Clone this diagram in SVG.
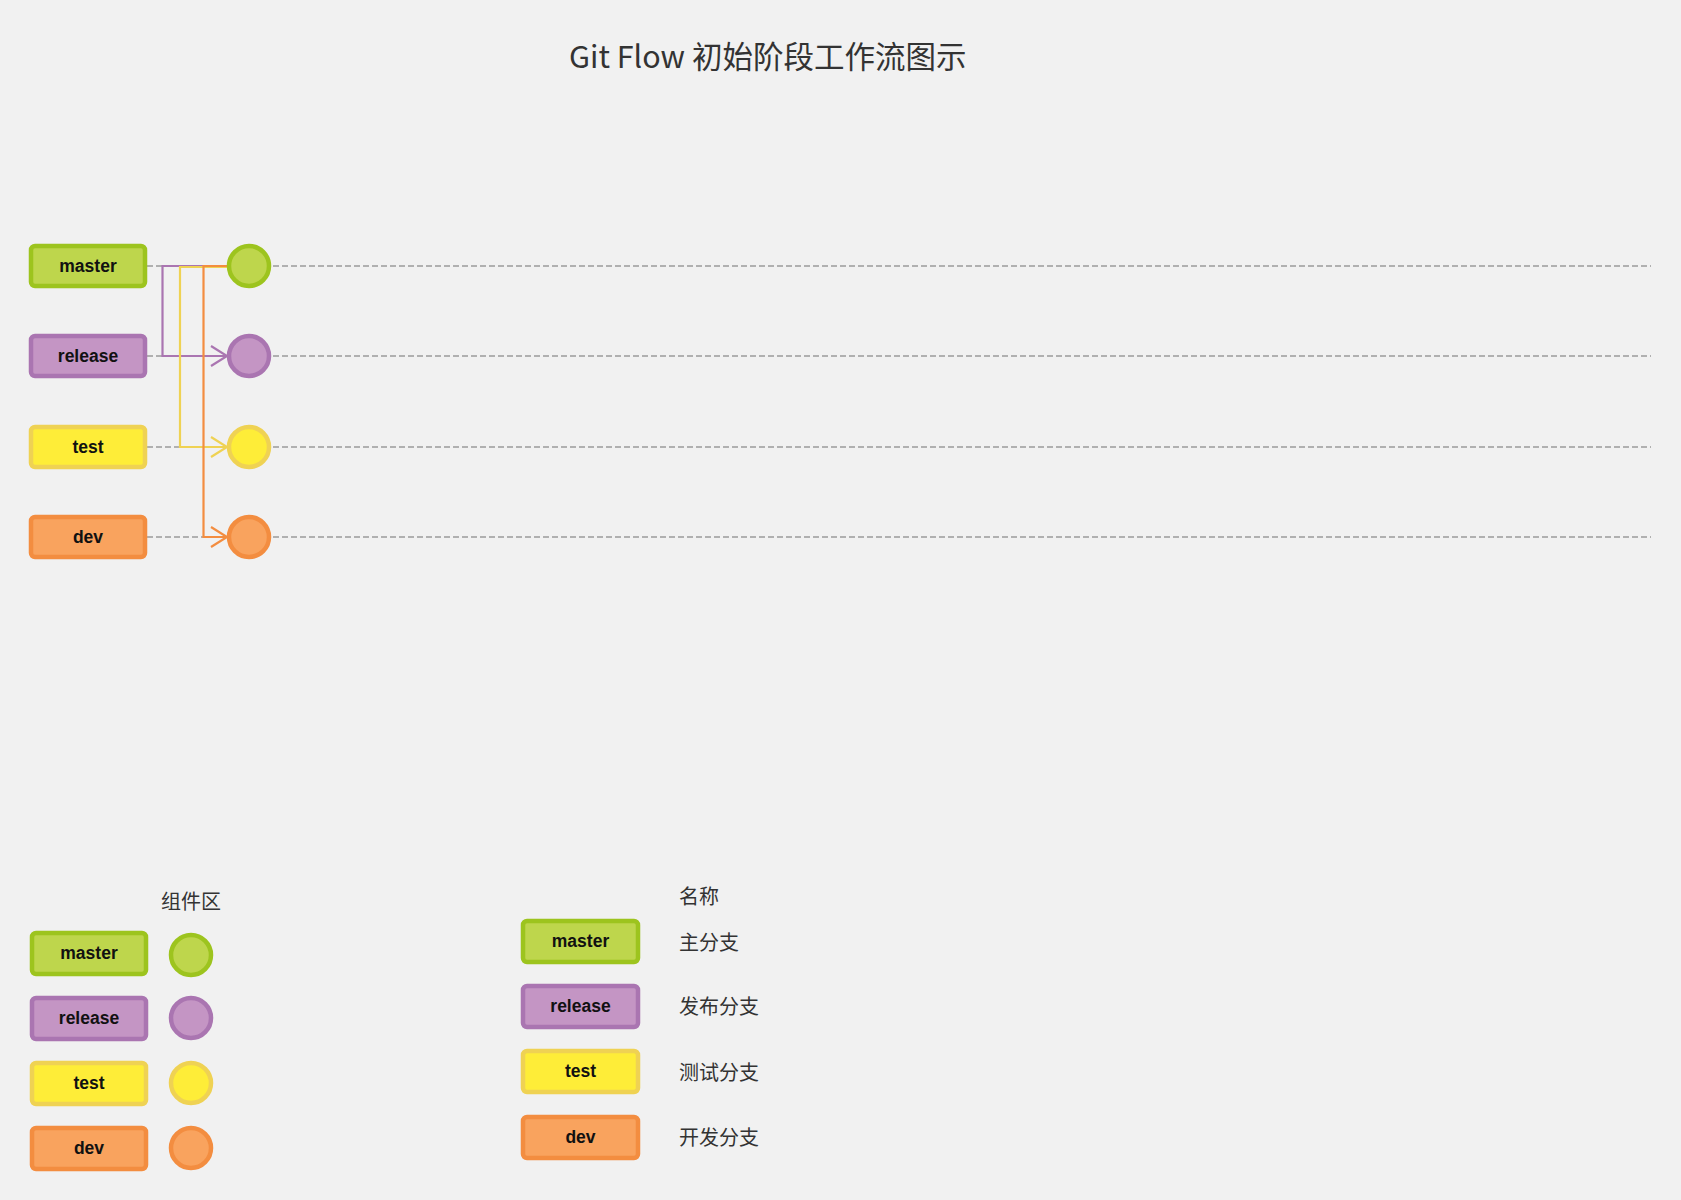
<svg xmlns="http://www.w3.org/2000/svg" width="1681" height="1200" viewBox="0 0 1681 1200">
<defs>
<style>
.bg{fill:#F1F1F1}
.title{font-family:"Noto Sans CJK SC","Liberation Sans",sans-serif;font-size:30.5px;fill:#333}
.lbl{font-family:"Liberation Sans","Noto Sans CJK SC",sans-serif;font-size:17.5px;font-weight:bold;fill:#111;text-anchor:middle}
.cap{font-family:"Noto Sans CJK SC","Liberation Sans",sans-serif;font-size:20px;fill:#333}
.box{stroke-width:4.5}
.cir{stroke-width:4.5}
.m{fill:#BED64C;stroke:#9DC41E}
.r{fill:#C495C4;stroke:#AA75B1}
.t{fill:#FEED38;stroke:#EFD253}
.d{fill:#F9A35E;stroke:#F38D40}
.dash{stroke:#9A9A9A;stroke-width:1.5;stroke-dasharray:6 3;fill:none}
.con{fill:none;stroke-width:2.2}
</style>
<marker id="arrP" markerWidth="20" markerHeight="24" refX="17" refY="11" orient="auto" markerUnits="userSpaceOnUse"><path d="M1,1 L17,11 L1,21" fill="none" stroke="#AA75B1" stroke-width="2.2"/></marker>
<marker id="arrY" markerWidth="20" markerHeight="24" refX="17" refY="11" orient="auto" markerUnits="userSpaceOnUse"><path d="M1,1 L17,11 L1,21" fill="none" stroke="#EFD253" stroke-width="2.2"/></marker>
<marker id="arrO" markerWidth="20" markerHeight="24" refX="17" refY="11" orient="auto" markerUnits="userSpaceOnUse"><path d="M1,1 L17,11 L1,21" fill="none" stroke="#F38D40" stroke-width="2.2"/></marker>
</defs>
<rect class="bg" x="0" y="0" width="1681" height="1200"/>
<text class="title" x="569" y="68">Git Flow 初始阶段工作流图示</text>

<g id="lanes">
<line class="dash" x1="147" y1="266" x2="1651" y2="266"/>
<line class="dash" x1="147" y1="356" x2="1651" y2="356"/>
<line class="dash" x1="147" y1="447" x2="1651" y2="447"/>
<line class="dash" x1="147" y1="537" x2="1651" y2="537"/>
</g>

<g id="connectors">
<path class="con" stroke="#AA75B1" d="M227,266 L162.5,266 L162.5,356 L227,356" marker-end="url(#arrP)"/>
<path class="con" stroke="#EFD253" d="M227,267 L180,267 L180,447 L227,447" marker-end="url(#arrY)"/>
<path class="con" stroke="#F38D40" d="M227,266 L203.5,266 L203.5,537 L227,537" marker-end="url(#arrO)"/>
</g>

<g id="node-master"><rect class="box m" x="31" y="246" width="114" height="40" rx="4"/><text class="lbl" x="88" y="272">master</text></g>
<g id="node-release"><rect class="box r" x="31" y="336" width="114" height="40" rx="4"/><text class="lbl" x="88" y="362">release</text></g>
<g id="node-test"><rect class="box t" x="31" y="427" width="114" height="40" rx="4"/><text class="lbl" x="88" y="453">test</text></g>
<g id="node-dev"><rect class="box d" x="31" y="517" width="114" height="40" rx="4"/><text class="lbl" x="88" y="543">dev</text></g>

<g id="commit-master"><circle class="cir m" cx="249" cy="266" r="20"/></g>
<g id="commit-release"><circle class="cir r" cx="249" cy="356" r="20"/></g>
<g id="commit-test"><circle class="cir t" cx="249" cy="447" r="20"/></g>
<g id="commit-dev"><circle class="cir d" cx="249" cy="537" r="20"/></g>

<g id="legend-components">
<text class="cap" x="161" y="909">组件区</text>
<g id="lc-master"><rect class="box m" x="32" y="933" width="114" height="41" rx="4"/><text class="lbl" x="89" y="959">master</text><circle class="cir m" cx="191" cy="955" r="20"/></g>
<g id="lc-release"><rect class="box r" x="32" y="998" width="114" height="41" rx="4"/><text class="lbl" x="89" y="1024">release</text><circle class="cir r" cx="191" cy="1018" r="20"/></g>
<g id="lc-test"><rect class="box t" x="32" y="1063" width="114" height="41" rx="4"/><text class="lbl" x="89" y="1089">test</text><circle class="cir t" cx="191" cy="1083" r="20"/></g>
<g id="lc-dev"><rect class="box d" x="32" y="1128" width="114" height="41" rx="4"/><text class="lbl" x="89" y="1154">dev</text><circle class="cir d" cx="191" cy="1148" r="20"/></g>
</g>

<g id="legend-names">
<text class="cap" x="679" y="904">名称</text>
<g id="ln-master"><rect class="box m" x="523" y="921" width="115" height="41" rx="4"/><text class="lbl" x="580.5" y="947">master</text><text class="cap" x="679" y="950">主分支</text></g>
<g id="ln-release"><rect class="box r" x="523" y="986" width="115" height="41" rx="4"/><text class="lbl" x="580.5" y="1012">release</text><text class="cap" x="679" y="1014">发布分支</text></g>
<g id="ln-test"><rect class="box t" x="523" y="1051" width="115" height="41" rx="4"/><text class="lbl" x="580.5" y="1077">test</text><text class="cap" x="679" y="1080">测试分支</text></g>
<g id="ln-dev"><rect class="box d" x="523" y="1117" width="115" height="41" rx="4"/><text class="lbl" x="580.5" y="1143">dev</text><text class="cap" x="679" y="1145">开发分支</text></g>
</g>
</svg>
